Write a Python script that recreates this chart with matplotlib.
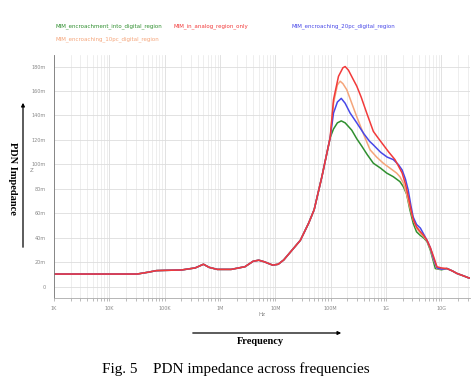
import numpy as np
import matplotlib
matplotlib.use('Agg')
import matplotlib.pyplot as plt
from matplotlib.ticker import FixedLocator, LogLocator, NullFormatter

# shared low-frequency part (log10 Hz, impedance in mOhm)
base_logf = [3.0, 4.0, 4.5, 4.7, 4.85, 5.0, 5.3, 5.55, 5.7, 5.8, 5.95, 6.2, 6.45,
             6.6, 6.7, 6.8, 6.95, 7.05, 7.15, 7.3, 7.45, 7.6, 7.7, 7.84, 7.99]
base_z = [10.5, 10.5, 10.5, 12.0, 13.3, 13.5, 13.8, 15.5, 18.5, 16.0, 14.3, 14.3, 16.5,
          21.0, 21.8, 20.5, 17.8, 18.5, 22.0, 30.0, 38.0, 52.0, 63.0, 90.0, 122.0]

# shared tail above 10 GHz
tail_logf = [10.1, 10.2, 10.28, 10.4, 10.49, 10.52]
tail_z = [15.0, 13.0, 11.0, 9.0, 7.4, 7.2]

green_logf = [8.05, 8.12, 8.19, 8.26, 8.38, 8.47, 8.56, 8.66, 8.77, 8.9, 9.01, 9.13, 9.25,
              9.31, 9.37, 9.43, 9.49, 9.55, 9.62, 9.68, 9.74, 9.8, 9.86, 9.89, 10.0]
green_z = [129, 134, 135.6, 134, 128, 121, 115, 108, 101, 97, 93, 90, 86,
           82, 76, 63, 52, 45, 42, 40, 37, 30, 20, 15, 14]

orange_logf = [8.05, 8.12, 8.17, 8.22, 8.29, 8.38, 8.47, 8.6, 8.71, 8.83, 8.95, 9.07, 9.19,
               9.25, 9.31, 9.37, 9.43, 9.49, 9.55, 9.62, 9.68, 9.74, 9.8, 9.86, 9.92, 10.0]
orange_z = [150, 165, 168, 166, 161, 150, 139, 124, 112, 106, 101, 97, 93,
            90, 85, 76, 65, 55, 48, 44, 41, 37.5, 31, 22, 15, 14.5]

blue_logf = [8.05, 8.12, 8.19, 8.26, 8.35, 8.47, 8.6, 8.7, 8.77, 8.9, 9.02, 9.13, 9.22,
             9.29, 9.35, 9.4, 9.45, 9.49, 9.55, 9.62, 9.68, 9.74, 9.8, 9.86, 9.92, 10.0]
blue_z = [142, 151, 154, 150, 142, 134, 125, 119, 116, 110, 106, 104, 100,
          95.5, 88, 79, 66, 57, 51, 48, 43, 38, 32, 23, 15.5, 14.5]

red_logf = [8.05, 8.14, 8.22, 8.26, 8.32, 8.4, 8.47, 8.55, 8.65, 8.77, 8.85, 8.95, 9.05,
            9.16, 9.22, 9.29, 9.35, 9.4, 9.45, 9.49, 9.55, 9.62, 9.68, 9.74, 9.8, 9.86,
            9.92, 10.0]
red_z = [153, 172, 179, 180, 177, 170, 164, 155, 142, 127, 122, 116, 110,
         104, 99, 93, 84, 74, 63, 55, 49, 45, 42, 38, 32, 24.5, 16.4, 15.5]

series = [
    ('MIM_encroachment_into_digital_region', '#2f8f2f', green_logf, green_z),
    ('MIM_encroaching_10pc_digital_region', '#f5a57a', orange_logf, orange_z),
    ('MIM_encroaching_20pc_digital_region', '#4848e8', blue_logf, blue_z),
    ('MIM_in_analog_region_only', '#f23a3a', red_logf, red_z),
]

fig = plt.figure(figsize=(4.74, 3.76), dpi=100)
ax = fig.add_axes([0.114, 0.207, 0.878, 0.647])

for name, color, lf, z in series:
    logf = np.array(base_logf + lf + tail_logf)
    zz = np.array(base_z + z + tail_z) / 1000.0
    ax.plot(np.power(10.0, logf), zz, color=color, lw=1.1)

ax.set_xscale('log')
ax.set_xlim(1e3, 10 ** 10.52)
ax.set_ylim(-0.0092, 0.1895)

ax.xaxis.set_major_locator(FixedLocator([1e3, 1e4, 1e5, 1e6, 1e7, 1e8, 1e9, 1e10]))
ax.set_xticklabels(['1K', '10K', '100K', '1M', '10M', '100M', '1G', '10G'])
ax.xaxis.set_minor_locator(LogLocator(base=10, subs=np.arange(2, 10)))
ax.xaxis.set_minor_formatter(NullFormatter())
yt = np.arange(0, 0.181, 0.02)
ax.set_yticks(yt)
ax.set_yticklabels(['0'] + ['%dm' % int(round(v * 1000)) for v in yt[1:]])

ax.tick_params(axis='both', which='both', labelsize=3.5, colors='#888888',
               length=2, width=0.4)
ax.tick_params(axis='y', length=0, pad=6)
ax.grid(True, which='major', color='#dddddd', lw=0.6)
ax.grid(True, which='minor', axis='x', color='#e8e8e8', lw=0.5)
for s in ['top', 'right']:
    ax.spines[s].set_visible(False)
ax.spines['left'].set_color('#777777')
ax.spines['bottom'].set_color('#aaaaaa')
ax.spines['left'].set_linewidth(0.6)
ax.spines['bottom'].set_linewidth(0.6)

# legend texts
leg_size = 4
fig.text(55 / 474, 1 - 26 / 376, series[0][0], color=series[0][1], fontsize=leg_size,
         va='center')
fig.text(173 / 474, 1 - 26 / 376, series[3][0], color=series[3][1], fontsize=leg_size,
         va='center')
fig.text(292 / 474, 1 - 26 / 376, series[2][0], color=series[2][1], fontsize=leg_size,
         va='center')
fig.text(55 / 474, 1 - 39 / 376, series[1][0], color=series[1][1], fontsize=leg_size,
         va='center')

# axis annotations
serif = ['Liberation Serif', 'DejaVu Serif']
fig.text(12 / 474, 1 - 178 / 376, 'PDN Impedance', rotation=-90, fontsize=7.5,
         fontweight='bold', family=serif, ha='center', va='center')
fig.text(32 / 474, 1 - 170 / 376, 'Z', fontsize=4, color='#888888',
         ha='center', va='center')
fig.text(262 / 474, 1 - 314 / 376, 'Hz', fontsize=4, color='#888888',
         ha='center', va='center')
fig.text(260 / 474, 1 - 341 / 376, 'Frequency', fontsize=7.5, fontweight='bold',
         family=serif, ha='center', va='center')
fig.text(236 / 474, 1 - 369 / 376, 'Fig. 5    PDN impedance across frequencies',
         fontsize=11, family=serif, ha='center', va='center')

fig.add_artist(matplotlib.patches.FancyArrowPatch(
    (23 / 474, 1 - 250 / 376), (23 / 474, 1 - 100 / 376), transform=fig.transFigure,
    arrowstyle='-|>', mutation_scale=5, lw=0.9, color='black'))
fig.add_artist(matplotlib.patches.FancyArrowPatch(
    (190 / 474, 1 - 333 / 376), (344 / 474, 1 - 333 / 376), transform=fig.transFigure,
    arrowstyle='-|>', mutation_scale=5, lw=0.9, color='black'))

fig.savefig('out.png', dpi=100)
